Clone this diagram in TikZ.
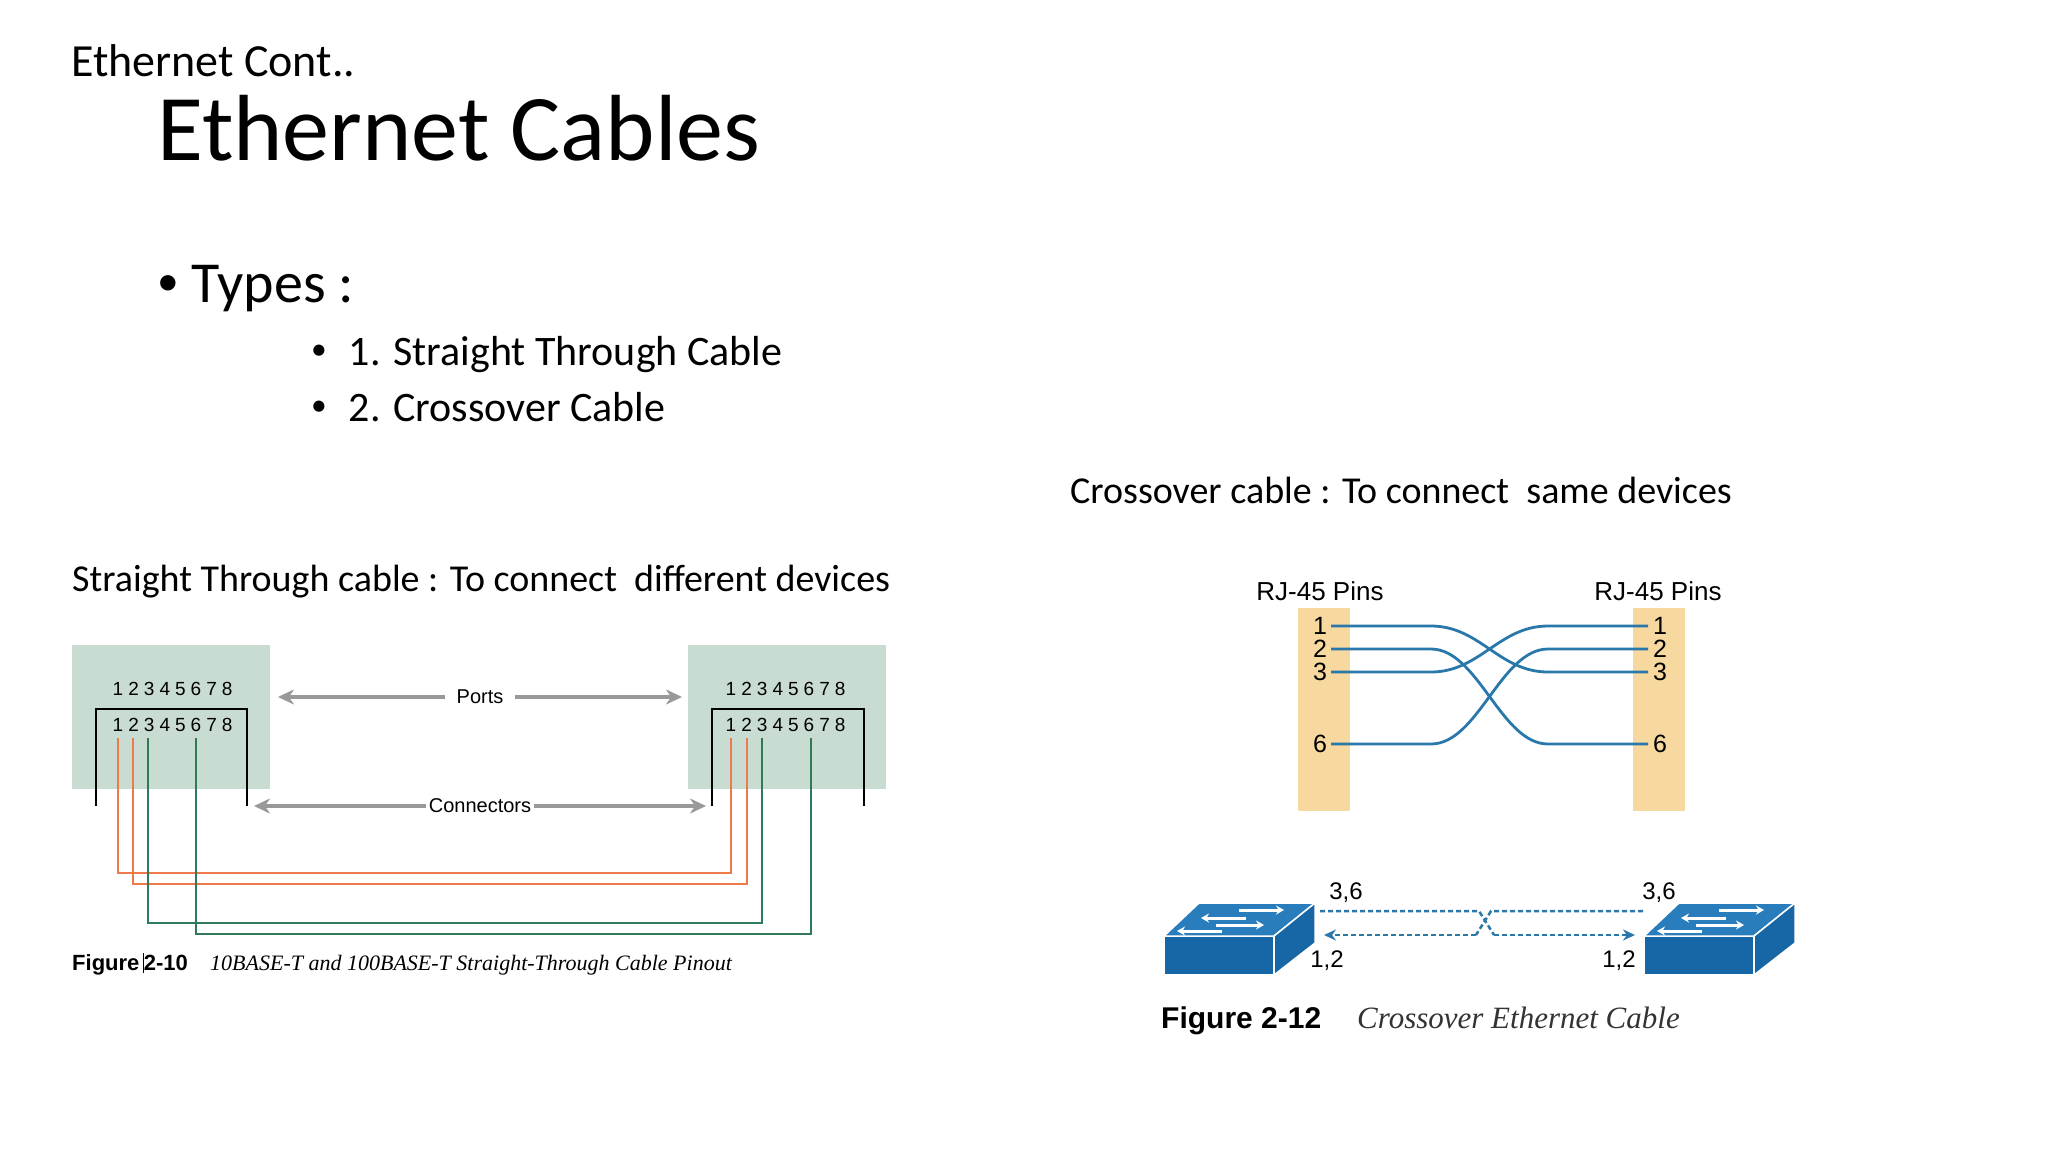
\documentclass[tikz,border=0pt]{standalone}
\usepackage{fontspec}
\setmainfont{Carlito}
\newfontfamily\figsans{Liberation Sans}
\newfontfamily\figserif{Liberation Serif}
\usetikzlibrary{arrows.meta}
\definecolor{sage}{HTML}{C8DCD2}
\definecolor{wireor}{HTML}{EE7A4C}
\definecolor{wiregr}{HTML}{2F7A5A}
\definecolor{strip}{HTML}{F7D9A0}
\definecolor{xblue}{HTML}{2A78AA}
\definecolor{swblue}{HTML}{1767A6}
\definecolor{swtop}{HTML}{2A7DBC}
\newcommand{\smbul}{\raisebox{0.12em}{\scalebox{0.75}{\textbullet}}}
\begin{document}
\begin{tikzpicture}[x=1pt,y=-1pt,
  slide/.style={anchor=base west,inner sep=0pt},
  pin/.style={font=\figsans\fontsize{19}{20}\selectfont,inner sep=0pt},
  garrow/.style={draw=gray!80,line width=3.5pt,-{Stealth[length=16pt,width=15pt]}},
  bracket/.style={draw=black,line width=2.5pt},
  wire/.style={line width=2.8pt},
  xwire/.style={draw=xblue,line width=2.8pt},
  dashln/.style={draw=xblue,line width=2.5pt,dash pattern=on 5pt off 3pt},
  sw/.style={fill=swblue,draw=white,line width=1.5pt,line join=round}]
\useasboundingbox (0,0) rectangle (2048,1152);
\fill[white] (0,0) rectangle (2048,1152);

% slide text
\node[slide,font=\fontsize{46}{56}\selectfont] (cont) at (71,76) {Ethernet Cont..};
\node[slide,font=\fontsize{94}{110}\selectfont] (title) at (157,160) {Ethernet Cables};
\node[slide,font=\fontsize{58}{70}\selectfont] (types) at (157,302) {\smbul\ Types :};
\node[slide,font=\fontsize{42}{50}\selectfont] (b1) at (311,365) {\smbul\hspace{22pt}1. Straight Through Cable};
\node[slide,font=\fontsize{42}{50}\selectfont] (b2) at (311,421) {\smbul\hspace{22pt}2. Crossover Cable};
\node[slide,font=\fontsize{38}{46}\selectfont] (xtitle) at (1070,503) {Crossover cable : To connect\ \ same devices};
\node[slide,font=\fontsize{38}{46}\selectfont] (stitle) at (72,591) {Straight Through cable : To connect\ \ different devices};

% straight-through figure
\fill[sage] (72,645) rectangle (270,789);
\fill[sage] (688,645) rectangle (886,789);
\draw[bracket] (96,806) |- (247,709) -- (247,806);
\draw[bracket] (712,806) |- (864,709) -- (864,806);
\foreach \i in {1,...,8}{
  \node[pin] (lt\i) at ({118+15.6*(\i-1)},689) {\i};
  \node[pin] (li\i) at ({118+15.6*(\i-1)},725) {\i};
  \node[pin] (rt\i) at ({731+15.6*(\i-1)},689) {\i};
  \node[pin] (ri\i) at ({731+15.6*(\i-1)},725) {\i};
}
\node[font=\figsans\fontsize{20}{22}\selectfont,fill=white,inner sep=3pt] (ports) at (480,697) {Ports};
\node[font=\figsans\fontsize{20}{22}\selectfont,fill=white,inner sep=3pt] (conn) at (480,806) {Connectors};
\coordinate (pa) at (278,697); \coordinate (pb) at (682,697);
\coordinate (ca) at (254,806); \coordinate (cb) at (706,806);
\draw[garrow] ([xshift=-8]ports.west) -- (pa);
\draw[garrow] ([xshift=8]ports.east) -- (pb);
\draw[garrow] (conn.west) -- (ca);
\draw[garrow] (conn.east) -- (cb);
\draw[wire,wireor] (118,738) |- (731,873) -- (731,738);
\draw[wire,wireor] (133,738) |- (747,884) -- (747,738);
\draw[wire,wiregr] (148,738) |- (762,923) -- (762,738);
\draw[wire,wiregr] (196,738) |- (811,934) -- (811,738);
\node[slide,font=\figsans\bfseries\fontsize{22}{24}\selectfont] (fig10) at (72,970) {Figure\,\rule[-3pt]{0.8pt}{20pt}2-10};
\node[slide,font=\figserif\itshape\fontsize{22}{24}\selectfont] (cap10) at (210,970) {10BASE-T and 100BASE-T Straight-Through Cable Pinout};

% crossover figure
\begin{scope}[xshift=-6]
\fill[strip] (1304,608) rectangle (1356,811);
\fill[strip] (1639,608) rectangle (1691,811);
\node[font=\figsans\fontsize{26}{28}\selectfont] (rjl) at (1326,591) {RJ-45 Pins};
\node[font=\figsans\fontsize{26}{28}\selectfont] (rjr) at (1664,591) {RJ-45 Pins};
\foreach \n/\y in {1/626,2/649,3/672,6/744}{
  \node[font=\figsans\fontsize{25}{26}\selectfont,inner sep=0pt] (pl\n) at (1326,\y) {\n};
  \node[font=\figsans\fontsize{25}{26}\selectfont,inner sep=0pt] (pr\n) at (1666,\y) {\n};
  \coordinate (wl\n) at (1337,\y); \coordinate (wr\n) at (1654,\y);
}
\draw[xwire] (wl1) -- ++(100,0) to[out=0,in=180] ([xshift=-100]wr3) -- (wr3);
\draw[xwire] (wl2) -- ++(100,0) to[out=0,in=180,looseness=0.8] ([xshift=-100]wr6) -- (wr6);
\draw[xwire] (wl3) -- ++(100,0) to[out=0,in=180] ([xshift=-100]wr1) -- (wr1);
\draw[xwire] (wl6) -- ++(100,0) to[out=0,in=180,looseness=0.8] ([xshift=-100]wr2) -- (wr2);

% switches
\foreach \s/\dx in {swl/0,swr/480}{
  \begin{scope}[xshift=\dx]
  \draw[sw] (1170,936) rectangle (1280,975);
  \draw[sw,fill=swtop] (1170,936) -- (1205,903) -- (1321,903) -- (1280,936) -- cycle;
  \draw[sw] (1280,936) -- (1321,903) -- (1321,943) -- (1280,975) -- cycle;
  \draw[white,line width=3pt,-{Stealth[length=8pt,width=9pt]}] (1245,910) -- (1290,910);
  \draw[white,line width=3pt,-{Stealth[length=8pt,width=9pt]}] (1252,918) -- (1207,918);
  \draw[white,line width=3pt,-{Stealth[length=8pt,width=9pt]}] (1222,925) -- (1270,925);
  \draw[white,line width=3pt,-{Stealth[length=8pt,width=9pt]}] (1228,931) -- (1183,931);
  \coordinate (\s) at (1245,940);
  \end{scope}
}
\node[font=\figsans\fontsize{24}{26}\selectfont] (l36) at (1352,893) {3,6};
\node[font=\figsans\fontsize{24}{26}\selectfont] (l12) at (1333,961) {1,2};
\node[font=\figsans\fontsize{24}{26}\selectfont] (r36) at (1665,893) {3,6};
\node[font=\figsans\fontsize{24}{26}\selectfont] (r12) at (1625,961) {1,2};
\coordinate (dtl) at (1326,911); \coordinate (dtr) at (1649,911);
\coordinate (dbl) at (1330,935); \coordinate (dbr) at (1641,935);
\draw[dashln] (dtl) -- (1485,911) -- (1500,935);
\draw[dashln,-{Stealth[length=12pt,width=11pt]}] (1500,935) -- (dbr);
\draw[dashln] (dtr) -- (1497,911) -- (1482,935);
\draw[dashln,-{Stealth[length=12pt,width=11pt]}] (1482,935) -- (dbl);
\node[slide,font=\figsans\bfseries\fontsize{30}{32}\selectfont] (fig12) at (1167,1028) {Figure 2-12};
\node[slide,font=\figserif\itshape\fontsize{31}{33}\selectfont,text=black!80] (cap12) at (1363,1028) {Crossover Ethernet Cable};
\end{scope}
\end{tikzpicture}
\end{document}
